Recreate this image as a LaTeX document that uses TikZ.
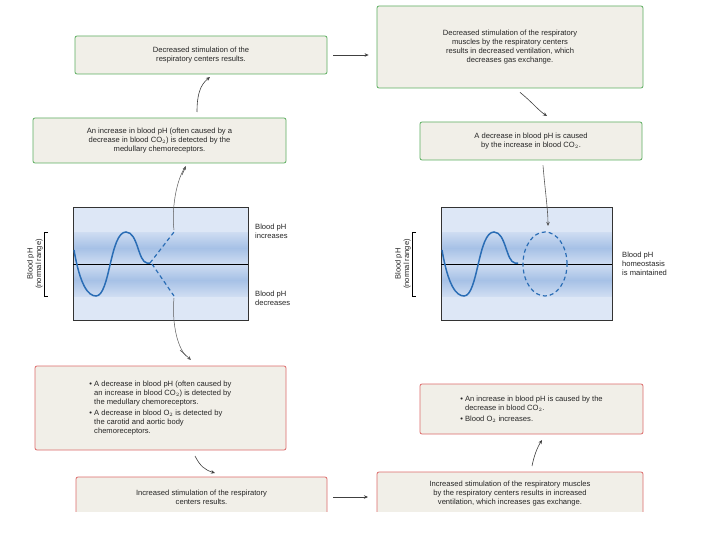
\documentclass[tikz,border=0pt]{standalone}
\usepackage{fontspec}
\setmainfont{Liberation Sans}
\usetikzlibrary{arrows.meta}
\definecolor{boxfill}{HTML}{F1EFE8}
\definecolor{gbord}{HTML}{5DAE60}
\definecolor{rbord}{HTML}{DD6B6B}
\definecolor{gbg}{HTML}{DDE7F6}
\definecolor{band}{HTML}{A6C1E6}
\definecolor{bandl}{HTML}{CFDDF2}
\definecolor{wave}{HTML}{2A6DB5}
\tikzset{
  x=1pt,y=-1pt,
  box/.style={draw, line width=0.8pt, fill=boxfill, rounded corners=2pt, align=center, font=\fontsize{7.6}{9}\selectfont, text=black!85, inner sep=2pt},
  gbox/.style={box, draw=gbord},
  rbox/.style={box, draw=rbord},
  arr/.style={-{Stealth[length=4pt,width=3.5pt]}, line width=0.6pt, draw=black!75},
  thin/.style={line width=0.5pt, draw=black!65},
  lab/.style={font=\fontsize{7.6}{9}\selectfont, text=black!85, align=left, anchor=west, inner sep=0pt},
}
\begin{document}
\begin{tikzpicture}
\useasboundingbox (0,0) rectangle (720,540);
\fill[white] (0,0) rectangle (720,540);
% boxes
\node[gbox, minimum width=252pt, minimum height=38pt] (b1) at (201,55) {Decreased stimulation of the\\respiratory centers results.};
\node[gbox, minimum width=266pt, minimum height=82pt] (b2) at (510,47) {Decreased stimulation of the respiratory\\muscles by the respiratory centers\\results in decreased ventilation, which\\decreases gas exchange.};
\node[gbox, minimum width=253pt, minimum height=45pt] (b3) at (159.5,140.5) {An increase in blood pH (often caused by a\\decrease in blood CO$_2$) is detected by the\\medullary chemoreceptors.};
\node[gbox, minimum width=222pt, minimum height=38pt] (b4) at (531,141) {A decrease in blood pH is caused\\by the increase in blood CO$_2$.};
\node[rbox, minimum width=251pt, minimum height=84pt, align=left] (b5) at (160.5,408) {\textbullet\ A decrease in blood pH (often caused by\\\phantom{\textbullet\ }an increase in blood CO$_2$) is detected by\\\phantom{\textbullet\ }the medullary chemoreceptors.\\[2pt]\textbullet\ A decrease in blood O$_2$ is detected by\\\phantom{\textbullet\ }the carotid and aortic body\\\phantom{\textbullet\ }chemoreceptors.};
\node[rbox, minimum width=223pt, minimum height=50pt, align=left] (b6) at (531.5,409) {\textbullet\ An increase in blood pH is caused by the\\\phantom{\textbullet\ }decrease in blood CO$_2$.\\[2pt]\textbullet\ Blood O$_2$ increases.};
\node[rbox, minimum width=251pt, minimum height=40pt] (b7) at (201.5,497) {Increased stimulation of the respiratory\\centers results.};
\node[rbox, minimum width=266pt, minimum height=44pt] (b8) at (510,494) {Increased stimulation of the respiratory muscles\\by the respiratory centers results in increased\\ventilation, which increases gas exchange.};
\fill[white] (0,512) rectangle (720,540);
% graphs
\foreach \gx/\gw in {73/175, 441/171}{
  \fill[gbg] (\gx,207) rectangle ++(\gw,113);
  \shade[top color=bandl, bottom color=bandl, middle color=band] (\gx,232) rectangle ++(\gw,32);
  \shade[top color=bandl, bottom color=bandl, middle color=band] (\gx,264) rectangle ++(\gw,32);
  \draw[line width=0.8pt, black!80] (\gx,207) rectangle ++(\gw,113);
  \draw[line width=0.6pt] (\gx,264) -- ++(\gw,0);
}
% left wave
\draw[wave, line width=1.5pt] (74,250) .. controls (80,285) and (88,296) .. (96,296) .. controls (110,296) and (110,232) .. (126,232) .. controls (138,232) and (138,262) .. (147,263) -- (150,263);
\draw[wave, line width=1.2pt, dash pattern=on 4pt off 3pt] (150,263) -- (174,232);
\draw[wave, line width=1.2pt, dash pattern=on 4pt off 3pt] (152,264) -- (174,296);
% right wave
\draw[wave, line width=1.5pt] (442,250) .. controls (448,285) and (456,296) .. (464,296) .. controls (478,296) and (478,232) .. (494,232) .. controls (506,232) and (506,262) .. (515,263) -- (518,263);
\draw[wave, line width=1.2pt, dash pattern=on 4pt off 3pt] (545,264) ellipse (22pt and 32pt);
% brackets and labels
\foreach \bx in {44,412}{
  \draw[line width=0.6pt] (\bx+4,232) -- (\bx,232) -- (\bx,296) -- (\bx+4,296);
  \node[rotate=90, align=center, font=\fontsize{7.6}{8.5}\selectfont, text=black!85] at (\bx-9,264) {Blood pH\\(normal range)};
}
\node[lab] (li) at (255,231) {Blood pH\\increases};
\node[lab] (ld) at (255,298) {Blood pH\\decreases};
\node[lab] (lh) at (622,264) {Blood pH\\homeostasis\\is maintained};
% connectors
\coordinate (t1) at (174,230);
\coordinate (t2) at (174,298);
\coordinate (e1) at (548,226);
\draw[arr] (b1.east) ++(6,0) -- ([xshift=-8pt]b2.west |- b1.east);
\draw[arr] (197,112) .. controls (197,95) and (200,85) .. (210,77);
\draw[arr] (b2.south) ++(10,4) .. controls (532,102) and (538,110) .. (547,116);
\draw[thin] (t1) .. controls (172,215) and (174,185) .. (185,167);
\draw[arr, draw=black!65] (182,175) -- (186,166);
\draw[thin] (t2) .. controls (172,320) and (176,345) .. (186,356);
\draw[arr, draw=black!65] (180,350) -- (191,360);
\draw[arr] (195,456) .. controls (200,466) and (205,470) .. (215,473);
\draw[arr] (333,497) -- (368,497);
\draw[arr] (532,466) .. controls (534,456) and (537,448) .. (542,440);
\draw[arr, draw=black!65] (b4.south) ++(12,5) .. controls (545,190) and (548,210) .. (e1);
\end{tikzpicture}
\end{document}
